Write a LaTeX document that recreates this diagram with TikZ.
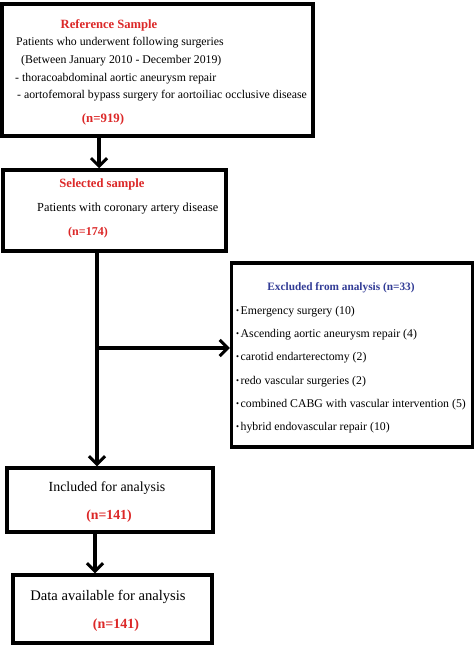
\documentclass[tikz,border=0pt]{standalone}
\usepackage{fontspec}
\setmainfont{Liberation Serif}
\usetikzlibrary{arrows.meta}
\definecolor{redt}{RGB}{220,40,40}
\definecolor{bluet}{RGB}{50,60,150}
\newcommand{\mybul}{\raisebox{1.8pt}{\fontsize{8.5}{8.5}\selectfont\textbullet}\hspace{1.5pt}}
\begin{document}
\begin{tikzpicture}[x=1pt,y=-1pt,
  box/.style={draw=black,line width=3.5pt,rectangle,inner sep=0pt},
  txt/.style={inner sep=0pt,font=\fontsize{11.8}{13}\selectfont},
  ttl/.style={inner sep=0pt,font=\fontsize{12.6}{14}\selectfont\bfseries,text=redt},
  num/.style={inner sep=0pt,font=\fontsize{12.8}{14}\selectfont\bfseries,text=redt},
  item/.style={inner sep=0pt,font=\fontsize{11.8}{13}\selectfont,anchor=west},
  arr/.style={line width=3.5pt,-{Straight Barb[length=8pt,width=16pt,line width=3pt]}},
  ln/.style={line width=3.5pt}]
\useasboundingbox (0,0) rectangle (474,647);
\fill[white] (0,0) rectangle (474,647);
% boxes
\node[box,minimum width=311pt,minimum height=132pt] (b1) at (157.5,70) {};
\node[box,minimum width=223pt,minimum height=81pt] (b2) at (114.5,210.5) {};
\node[box,minimum width=241pt,minimum height=184pt] (ex) at (352,355) {};
\node[box,minimum width=206pt,minimum height=64pt] (inc) at (110,500) {};
\node[box,minimum width=199pt,minimum height=68pt] (dat) at (112.5,609) {};
% box 1 text
\node[ttl] (t1) at (109,25) {Reference Sample};
\node[txt,anchor=west] (t1a) at (16,43) {Patients who underwent following surgeries};
\node[txt,anchor=west] (t1b) at (21,61) {(Between January 2010 - December 2019)};
\node[txt,anchor=west] (t1c) at (15,79) {- thoracoabdominal aortic aneurysm repair};
\node[txt,anchor=west] (t1d) at (17,96) {- aortofemoral bypass surgery for aortoiliac occlusive disease};
\node[num] (n1) at (103,119) {(n=919)};
% box 2 text
\node[ttl] (t2) at (102,184) {Selected sample};
\node[txt,font=\fontsize{12.3}{14}\selectfont,anchor=west] (t2a) at (37,209) {Patients with coronary artery disease};
\node[num,font=\fontsize{12}{14}\selectfont\bfseries] (n2) at (88,233) {(n=174)};
% excluded
\node[inner sep=0pt,font=\fontsize{11.3}{13}\selectfont\bfseries,text=bluet] (t3) at (341,288) {Excluded from analysis (n=33)};
\node[item] (e1) at (236,312) {\mybul Emergency surgery (10)};
\node[item] (e2) at (236,335) {\mybul Ascending aortic aneurysm repair (4)};
\node[item] (e3) at (236,358) {\mybul carotid endarterectomy (2)};
\node[item] (e4) at (236,382) {\mybul redo vascular surgeries (2)};
\node[item] (e5) at (236,405) {\mybul combined CABG with vascular intervention (5)};
\node[item] (e6) at (236,428) {\mybul hybrid endovascular repair (10)};
% included
\node[txt,font=\fontsize{13.9}{16}\selectfont] (t4) at (107,488) {Included for analysis};
\node[num,font=\fontsize{13.8}{16}\selectfont\bfseries] (n4) at (109,516) {(n=141)};
% data
\node[txt,font=\fontsize{14.6}{16}\selectfont] (t5) at (108,597) {Data available for analysis};
\node[num,font=\fontsize{14}{16}\selectfont\bfseries] (n5) at (116,625) {(n=141)};
% connectors
\coordinate (xa) at (99,0);
\coordinate (xb) at (97,0);
\coordinate (br) at (97,348);
\coordinate (xc) at (95,0);
\draw[arr] (b1.south -| xa) -- (b2.north -| xa);
\draw[arr] (b2.south -| xb) -- (inc.north -| xb);
\draw[arr] (br) -- (br -| ex.west);
\draw[arr] (inc.south -| xc) -- (dat.north -| xc);
\end{tikzpicture}
\end{document}
